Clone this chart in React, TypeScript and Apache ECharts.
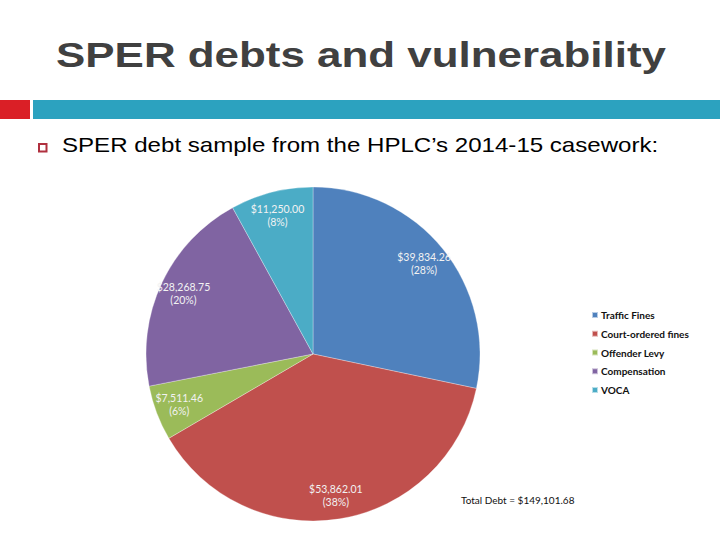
import React, { useEffect, useRef } from "react";
import * as echarts from "echarts";

const categories = ["Traffic Fines", "Court-ordered fines", "Offender Levy", "Compensation", "VOCA"];
const values = [39834.26, 53862.01, 7511.46, 28268.75, 11250.0];
const pctLabels = ["28%", "38%", "6%", "20%", "8%"];
const colors = ["#4F81BD", "#C0504D", "#9BBB59", "#8064A2", "#4BACC6"];
const totalText = "Total Debt = $149,101.68";
const titleText = "SPER debts and vulnerability";
const subtitleText = "SPER debt sample from the HPLC\u2019s 2014-15 casework:";

function fmt(v: number): string {
  return "$" + v.toLocaleString("en-US", { minimumFractionDigits: 2, maximumFractionDigits: 2 });
}

export default function App() {
  const ref = useRef<HTMLDivElement>(null);
  useEffect(() => {
    if (!ref.current) return;
    const chart = echarts.init(ref.current, undefined, { renderer: "svg" });
    const data = categories.map((name, i) => ({
      name,
      value: values[i],
      itemStyle: { color: colors[i] },
    }));
    const labelData = categories.map((name, i) => ({
      name: name + "_lbl",
      value: values[i],
      pct: pctLabels[i],
    }));
    chart.setOption({
      animation: false,
      backgroundColor: "#ffffff",
      legend: {
        orient: "vertical",
        left: 591,
        top: 310,
        padding: 0,
        itemWidth: 6,
        itemHeight: 6,
        itemGap: 8.75,
        icon: "rect",
        data: categories,
        textStyle: {
          fontFamily: "Lato",
          fontWeight: "bold",
          fontSize: 10,
          color: "#111111",
          lineHeight: 10,
          padding: [0, 0, 0, -2],
        },
      },
      graphic: [
        {
          type: "text",
          x: 361,
          y: 55,
          scaleX: 1.22,
          style: {
            text: titleText,
            x: 0,
            y: 0,
            fontFamily: "Liberation Sans",
            fontWeight: "bold",
            fontSize: 36,
            fill: "#404040",
            align: "center",
            verticalAlign: "middle",
          },
        },
        { type: "rect", shape: { x: 0, y: 100, width: 30, height: 19 }, style: { fill: "#DA1F26" } },
        { type: "rect", shape: { x: 33, y: 100, width: 687, height: 19 }, style: { fill: "#2CA2BF" } },
        {
          type: "rect",
          shape: { x: 39, y: 144, width: 7.5, height: 7.5 },
          style: { fill: "#ffffff", stroke: "#B0303F", lineWidth: 2 },
        },
        {
          type: "text",
          x: 62,
          y: 145,
          scaleX: 1.147,
          style: {
            text: subtitleText,
            x: 0,
            y: 0,
            fontFamily: "Liberation Sans",
            fontSize: 21,
            fill: "#000000",
            align: "left",
            verticalAlign: "middle",
          },
        },
        {
          type: "text",
          style: {
            text: totalText,
            x: 461,
            y: 500,
            fontFamily: "Lato",
            fontSize: 10,
            fill: "#111111",
            align: "left",
            verticalAlign: "middle",
          },
        },
      ],
      series: [
        {
          type: "pie",
          center: [313, 354],
          radius: [0, 167],
          startAngle: 90,
          clockwise: true,
          data,
          label: { show: false },
          labelLine: { show: false },
          itemStyle: { borderColor: "rgba(255,255,255,0.6)", borderWidth: 0.5 },
          silent: true,
        },
        {
          type: "pie",
          center: [313, 354],
          radius: [112, 168],
          startAngle: 90,
          clockwise: true,
          data: labelData,
          itemStyle: { color: "rgba(0,0,0,0)", borderWidth: 0 },
          silent: true,
          legendHoverLink: false,
          labelLine: { show: false },
          label: {
            show: true,
            position: "inside",
            fontFamily: "Lato",
            fontSize: 10.5,
            lineHeight: 13,
            color: "#f2f2f2",
            textBorderWidth: 0,
            align: "center",
            formatter: (p: any) => fmt(p.value) + "\n(" + p.data.pct + ")",
          },
        },
      ],
    });
    return () => chart.dispose();
  }, []);
  return (
    <div
      ref={ref}
      style={{ position: "absolute", left: 0, top: 0, width: 720, height: 540 }}
    />
  );
}
